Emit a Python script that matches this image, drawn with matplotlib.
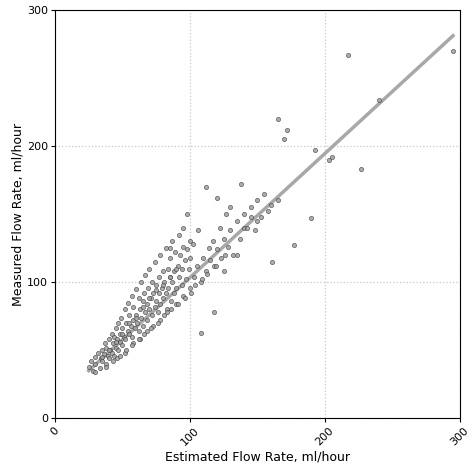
import matplotlib
matplotlib.use("Agg")
import matplotlib.pyplot as plt
import numpy as np

# estimated vs measured flow rate, ml/hour
est = [
    217, 295, 240, 165, 172, 170, 190, 227, 177, 203, 205, 193, 161, 118, 150, 160, 165, 112,
    120, 138, 130, 140, 145, 135, 125, 108, 100, 95, 98, 85,
    25, 27, 28, 30, 30, 32, 33, 34, 35, 35, 36, 37, 38, 38, 39, 40, 40, 41, 42, 42,
    43, 44, 44, 45, 45, 46, 47, 47, 48, 48, 49, 50, 50, 51, 52, 52, 53, 54, 54, 55,
    55, 56, 57, 57, 58, 58, 59, 60, 60, 61, 62, 62, 63, 64, 64, 65, 65, 66, 67, 67,
    68, 68, 69, 70, 70, 71, 72, 72, 73, 74, 74, 75, 75, 76, 77, 77, 78, 78, 79, 80,
    80, 81, 82, 82, 83, 84, 84, 85, 85, 86, 87, 87, 88, 88, 89, 90, 90, 91, 92, 92,
    93, 94, 94, 95, 95, 96, 97, 98, 99, 100, 100, 102, 103, 105, 106, 108, 110, 112, 114, 115,
    117, 118, 120, 122, 123, 125, 127, 128, 130, 132, 135, 137, 140, 142, 145, 148, 150, 153, 155, 158,
    35, 40, 45, 50, 55, 60, 65, 70, 75, 80, 85, 90, 46, 52, 58, 63, 68, 73, 78, 83,
    30, 38, 43, 48, 53, 57, 62, 66, 71, 76, 81, 86, 91, 96, 101, 104, 109, 113, 119, 126,
]
meas = [
    267, 270, 234, 220, 212, 205, 147, 183, 127, 190, 192, 197, 115, 78, 145, 157, 160, 170,
    162, 172, 155, 140, 148, 120, 108, 63, 130, 140, 150, 125,
    38, 42, 35, 45, 40, 48, 37, 44, 50, 42, 47, 55, 40, 52, 46, 58, 44, 50, 62, 48,
    55, 46, 60, 52, 66, 58, 50, 70, 56, 62, 74, 54, 66, 60, 80, 58, 70, 64, 85, 62,
    76, 68, 90, 60, 72, 82, 66, 95, 76, 70, 88, 64, 80, 100, 74, 86, 68, 92, 78, 105,
    84, 72, 96, 80, 110, 88, 76, 100, 92, 82, 115, 86, 98, 78, 104, 92, 120, 84, 96, 108,
    88, 100, 125, 92, 80, 110, 96, 104, 118, 86, 100, 130, 92, 108, 122, 96, 84, 112, 104, 135,
    120, 98, 110, 126, 90, 116, 102, 124, 110, 96, 118, 128, 104, 112, 138, 100, 118, 108, 125, 116,
    130, 112, 124, 140, 118, 132, 150, 126, 138, 120, 145, 132, 150, 140, 155, 138, 160, 148, 165, 152,
    45, 50, 56, 62, 70, 74, 82, 88, 94, 98, 104, 110, 44, 48, 55, 58, 64, 68, 72, 78,
    34, 38, 42, 46, 50, 54, 58, 62, 66, 70, 76, 80, 84, 88, 92, 98, 102, 106, 112, 120,
]
fit_x = [25, 295]
fit_y = [35, 281]

fig, ax = plt.subplots(figsize=(4.74, 4.70), dpi=100)
ax.plot(fit_x, fit_y, color="#a8a8a8", lw=2.5, zorder=2)
ax.scatter(est, meas, s=9, facecolors="#a0a0a0", edgecolors="#444444", linewidths=0.5,
           alpha=0.85, zorder=3)
ax.set_xlim(0, 300)
ax.set_ylim(0, 300)
ticks = [0, 100, 200, 300]
ax.set_xticks(ticks)
ax.set_yticks(ticks)
ax.set_xticklabels([str(t) for t in ticks], rotation=45, fontsize=8)
ax.set_yticklabels([str(t) for t in ticks], fontsize=8)
ax.tick_params(length=3, pad=2)
ax.grid(True, color="#c8c8c8", linestyle=":", linewidth=0.9)
ax.set_axisbelow(True)
ax.set_xlabel("Estimated Flow Rate, ml/hour", fontsize=9, labelpad=2)
ax.set_ylabel("Measured Flow Rate, ml/hour", fontsize=9, labelpad=2)
fig.subplots_adjust(left=0.116, right=0.97, bottom=0.11, top=0.979)
fig.savefig("out.png", dpi=100)
